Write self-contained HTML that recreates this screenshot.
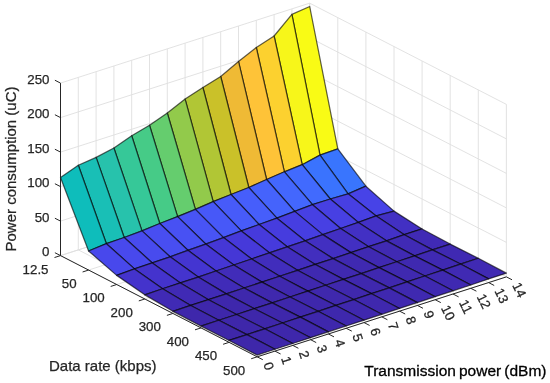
<!DOCTYPE html>
<html><head><meta charset="utf-8"><title>Power consumption</title>
<style>html,body{margin:0;padding:0;background:#fff}svg{display:block}</style></head>
<body>
<svg width="550" height="383" viewBox="0 0 550 383">
<rect width="550" height="383" fill="#fff"/>
<g id="grid">
<line x1="60.50" y1="255.60" x2="60.50" y2="83.10" stroke="#dfdfdf" stroke-width="0.9" />
<line x1="78.30" y1="249.89" x2="78.30" y2="77.39" stroke="#dfdfdf" stroke-width="0.9" />
<line x1="96.10" y1="244.18" x2="96.10" y2="71.68" stroke="#dfdfdf" stroke-width="0.9" />
<line x1="113.90" y1="238.47" x2="113.90" y2="65.97" stroke="#dfdfdf" stroke-width="0.9" />
<line x1="131.70" y1="232.76" x2="131.70" y2="60.26" stroke="#dfdfdf" stroke-width="0.9" />
<line x1="149.50" y1="227.05" x2="149.50" y2="54.55" stroke="#dfdfdf" stroke-width="0.9" />
<line x1="167.30" y1="221.34" x2="167.30" y2="48.84" stroke="#dfdfdf" stroke-width="0.9" />
<line x1="185.10" y1="215.63" x2="185.10" y2="43.13" stroke="#dfdfdf" stroke-width="0.9" />
<line x1="202.90" y1="209.92" x2="202.90" y2="37.42" stroke="#dfdfdf" stroke-width="0.9" />
<line x1="220.70" y1="204.21" x2="220.70" y2="31.71" stroke="#dfdfdf" stroke-width="0.9" />
<line x1="238.50" y1="198.50" x2="238.50" y2="26.00" stroke="#dfdfdf" stroke-width="0.9" />
<line x1="256.30" y1="192.79" x2="256.30" y2="20.29" stroke="#dfdfdf" stroke-width="0.9" />
<line x1="274.10" y1="187.08" x2="274.10" y2="14.58" stroke="#dfdfdf" stroke-width="0.9" />
<line x1="291.90" y1="181.37" x2="291.90" y2="8.87" stroke="#dfdfdf" stroke-width="0.9" />
<line x1="309.70" y1="175.66" x2="309.70" y2="3.16" stroke="#dfdfdf" stroke-width="0.9" />
<line x1="60.50" y1="255.60" x2="309.70" y2="175.66" stroke="#dfdfdf" stroke-width="0.9" />
<line x1="309.70" y1="175.66" x2="506.40" y2="276.88" stroke="#dfdfdf" stroke-width="0.9" />
<line x1="60.50" y1="221.10" x2="309.70" y2="141.16" stroke="#dfdfdf" stroke-width="0.9" />
<line x1="309.70" y1="141.16" x2="506.40" y2="242.38" stroke="#dfdfdf" stroke-width="0.9" />
<line x1="60.50" y1="186.60" x2="309.70" y2="106.66" stroke="#dfdfdf" stroke-width="0.9" />
<line x1="309.70" y1="106.66" x2="506.40" y2="207.88" stroke="#dfdfdf" stroke-width="0.9" />
<line x1="60.50" y1="152.10" x2="309.70" y2="72.16" stroke="#dfdfdf" stroke-width="0.9" />
<line x1="309.70" y1="72.16" x2="506.40" y2="173.38" stroke="#dfdfdf" stroke-width="0.9" />
<line x1="60.50" y1="117.60" x2="309.70" y2="37.66" stroke="#dfdfdf" stroke-width="0.9" />
<line x1="309.70" y1="37.66" x2="506.40" y2="138.88" stroke="#dfdfdf" stroke-width="0.9" />
<line x1="60.50" y1="83.10" x2="309.70" y2="3.16" stroke="#dfdfdf" stroke-width="0.9" />
<line x1="309.70" y1="3.16" x2="506.40" y2="104.38" stroke="#dfdfdf" stroke-width="0.9" />
<line x1="309.70" y1="175.66" x2="309.70" y2="3.16" stroke="#dfdfdf" stroke-width="0.9" />
<line x1="337.80" y1="190.12" x2="337.80" y2="17.62" stroke="#dfdfdf" stroke-width="0.9" />
<line x1="365.90" y1="204.58" x2="365.90" y2="32.08" stroke="#dfdfdf" stroke-width="0.9" />
<line x1="394.00" y1="219.04" x2="394.00" y2="46.54" stroke="#dfdfdf" stroke-width="0.9" />
<line x1="422.10" y1="233.50" x2="422.10" y2="61.00" stroke="#dfdfdf" stroke-width="0.9" />
<line x1="450.20" y1="247.96" x2="450.20" y2="75.46" stroke="#dfdfdf" stroke-width="0.9" />
<line x1="478.30" y1="262.42" x2="478.30" y2="89.92" stroke="#dfdfdf" stroke-width="0.9" />
<line x1="506.40" y1="276.88" x2="506.40" y2="104.38" stroke="#dfdfdf" stroke-width="0.9" />
<line x1="60.50" y1="255.60" x2="257.20" y2="356.82" stroke="#dfdfdf" stroke-width="0.9" />
<line x1="78.30" y1="249.89" x2="275.00" y2="351.11" stroke="#dfdfdf" stroke-width="0.9" />
<line x1="96.10" y1="244.18" x2="292.80" y2="345.40" stroke="#dfdfdf" stroke-width="0.9" />
<line x1="113.90" y1="238.47" x2="310.60" y2="339.69" stroke="#dfdfdf" stroke-width="0.9" />
<line x1="131.70" y1="232.76" x2="328.40" y2="333.98" stroke="#dfdfdf" stroke-width="0.9" />
<line x1="149.50" y1="227.05" x2="346.20" y2="328.27" stroke="#dfdfdf" stroke-width="0.9" />
<line x1="167.30" y1="221.34" x2="364.00" y2="322.56" stroke="#dfdfdf" stroke-width="0.9" />
<line x1="185.10" y1="215.63" x2="381.80" y2="316.85" stroke="#dfdfdf" stroke-width="0.9" />
<line x1="202.90" y1="209.92" x2="399.60" y2="311.14" stroke="#dfdfdf" stroke-width="0.9" />
<line x1="220.70" y1="204.21" x2="417.40" y2="305.43" stroke="#dfdfdf" stroke-width="0.9" />
<line x1="238.50" y1="198.50" x2="435.20" y2="299.72" stroke="#dfdfdf" stroke-width="0.9" />
<line x1="256.30" y1="192.79" x2="453.00" y2="294.01" stroke="#dfdfdf" stroke-width="0.9" />
<line x1="274.10" y1="187.08" x2="470.80" y2="288.30" stroke="#dfdfdf" stroke-width="0.9" />
<line x1="291.90" y1="181.37" x2="488.60" y2="282.59" stroke="#dfdfdf" stroke-width="0.9" />
<line x1="309.70" y1="175.66" x2="506.40" y2="276.88" stroke="#dfdfdf" stroke-width="0.9" />
<line x1="60.50" y1="255.60" x2="309.70" y2="175.66" stroke="#dfdfdf" stroke-width="0.9" />
<line x1="88.60" y1="270.06" x2="337.80" y2="190.12" stroke="#dfdfdf" stroke-width="0.9" />
<line x1="116.70" y1="284.52" x2="365.90" y2="204.58" stroke="#dfdfdf" stroke-width="0.9" />
<line x1="144.80" y1="298.98" x2="394.00" y2="219.04" stroke="#dfdfdf" stroke-width="0.9" />
<line x1="172.90" y1="313.44" x2="422.10" y2="233.50" stroke="#dfdfdf" stroke-width="0.9" />
<line x1="201.00" y1="327.90" x2="450.20" y2="247.96" stroke="#dfdfdf" stroke-width="0.9" />
<line x1="229.10" y1="342.36" x2="478.30" y2="262.42" stroke="#dfdfdf" stroke-width="0.9" />
<line x1="257.20" y1="356.82" x2="506.40" y2="276.88" stroke="#dfdfdf" stroke-width="0.9" />
</g>
<g id="surf" stroke="#000" stroke-width="1.25" stroke-linejoin="round" stroke-opacity="0.62">
<polygon points="291.90,14.40 309.70,6.50 337.80,148.84 320.00,155.09" fill="#f9fb15"/>
<polygon points="274.10,36.00 291.90,14.40 320.00,155.09 302.20,164.68" fill="#f7f61a"/>
<polygon points="256.30,47.50 274.10,36.00 302.20,164.68 284.40,171.80" fill="#fcd12f"/>
<polygon points="238.50,61.40 256.30,47.50 284.40,171.80 266.60,179.51" fill="#fec338"/>
<polygon points="220.70,76.50 238.50,61.40 266.60,179.51 248.80,187.51" fill="#efba35"/>
<polygon points="202.90,87.50 220.70,76.50 248.80,187.51 231.00,194.51" fill="#cac129"/>
<polygon points="185.10,99.10 202.90,87.50 231.00,194.51 213.20,201.66" fill="#b1c635"/>
<polygon points="167.30,113.00 185.10,99.10 213.20,201.66 195.40,209.37" fill="#92ca4b"/>
<polygon points="149.50,125.20 167.30,113.00 195.40,209.37 177.60,216.66" fill="#65cd6e"/>
<polygon points="131.70,135.70 149.50,125.20 177.60,216.66 159.80,223.54" fill="#46cb87"/>
<polygon points="113.90,148.00 131.70,135.70 159.80,223.54 142.00,230.86" fill="#36c898"/>
<polygon points="96.10,157.40 113.90,148.00 142.00,230.86 124.20,237.47" fill="#27c2ac"/>
<polygon points="78.30,165.20 96.10,157.40 124.20,237.47 106.40,243.69" fill="#19bfb6"/>
<polygon points="60.50,177.50 78.30,165.20 106.40,243.69 88.60,251.00" fill="#0ebdbb"/>
<polygon points="320.00,155.09 337.80,148.84 365.90,186.17 348.10,193.86" fill="#3975fe"/>
<polygon points="302.20,164.68 320.00,155.09 348.10,193.86 330.30,199.01" fill="#3a73fe"/>
<polygon points="284.40,171.80 302.20,164.68 330.30,199.01 312.50,204.71" fill="#416afe"/>
<polygon points="266.60,179.51 284.40,171.80 312.50,204.71 294.70,211.38" fill="#4367fd"/>
<polygon points="248.80,187.51 266.60,179.51 294.70,211.38 276.90,218.19" fill="#4563fc"/>
<polygon points="231.00,194.51 248.80,187.51 276.90,218.19 259.10,224.52" fill="#465efb"/>
<polygon points="213.20,201.66 231.00,194.51 259.10,224.52 241.30,230.92" fill="#475bf9"/>
<polygon points="195.40,209.37 213.20,201.66 241.30,230.92 223.50,237.58" fill="#4758f8"/>
<polygon points="177.60,216.66 195.40,209.37 223.50,237.58 205.70,244.05" fill="#4854f5"/>
<polygon points="159.80,223.54 177.60,216.66 205.70,244.05 187.90,250.32" fill="#4851f3"/>
<polygon points="142.00,230.86 159.80,223.54 187.90,250.32 170.10,256.81" fill="#484ef1"/>
<polygon points="124.20,237.47 142.00,230.86 170.10,256.81 152.30,262.95" fill="#484bee"/>
<polygon points="106.40,243.69 124.20,237.47 152.30,262.95 134.50,268.90" fill="#4849ed"/>
<polygon points="88.60,251.00 106.40,243.69 134.50,268.90 116.70,275.38" fill="#4848ec"/>
<polygon points="348.10,193.86 365.90,186.17 394.00,211.11 376.20,215.90" fill="#4743e7"/>
<polygon points="330.30,199.01 348.10,193.86 376.20,215.90 358.40,222.45" fill="#473fe2"/>
<polygon points="312.50,204.71 330.30,199.01 358.40,222.45 340.60,228.47" fill="#4740e3"/>
<polygon points="294.70,211.38 312.50,204.71 340.60,228.47 322.80,234.61" fill="#4740e3"/>
<polygon points="276.90,218.19 294.70,211.38 322.80,234.61 305.00,240.82" fill="#463ee1"/>
<polygon points="259.10,224.52 276.90,218.19 305.00,240.82 287.20,246.81" fill="#463cde"/>
<polygon points="241.30,230.92 259.10,224.52 287.20,246.81 269.40,252.83" fill="#463adc"/>
<polygon points="223.50,237.58 241.30,230.92 269.40,252.83 251.60,258.98" fill="#4639da"/>
<polygon points="205.70,244.05 223.50,237.58 251.60,258.98 233.80,265.03" fill="#4537d6"/>
<polygon points="187.90,250.32 205.70,244.05 233.80,265.03 216.00,271.00" fill="#4536d4"/>
<polygon points="170.10,256.81 187.90,250.32 216.00,271.00 198.20,277.06" fill="#4435d1"/>
<polygon points="152.30,262.95 170.10,256.81 198.20,277.06 180.40,282.96" fill="#4434ce"/>
<polygon points="134.50,268.90 152.30,262.95 180.40,282.96 162.60,288.78" fill="#4433cd"/>
<polygon points="116.70,275.38 134.50,268.90 162.60,288.78 144.80,294.84" fill="#4433cc"/>
<polygon points="376.20,215.90 394.00,211.11 422.10,228.93 404.30,234.70" fill="#4230c3"/>
<polygon points="358.40,222.45 376.20,215.90 404.30,234.70 386.50,240.84" fill="#4331c7"/>
<polygon points="340.60,228.47 358.40,222.45 386.50,240.84 368.70,246.71" fill="#4230c4"/>
<polygon points="322.80,234.61 340.60,228.47 368.70,246.71 350.90,252.64" fill="#422fc2"/>
<polygon points="305.00,240.82 322.80,234.61 350.90,252.64 333.10,258.60" fill="#422fc1"/>
<polygon points="287.20,246.81 305.00,240.82 333.10,258.60 315.30,264.45" fill="#422ebe"/>
<polygon points="269.40,252.83 287.20,246.81 315.30,264.45 297.50,270.32" fill="#412dbd"/>
<polygon points="251.60,258.98 269.40,252.83 297.50,270.32 279.70,276.25" fill="#412dbc"/>
<polygon points="233.80,265.03 251.60,258.98 279.70,276.25 261.90,282.14" fill="#412cba"/>
<polygon points="216.00,271.00 233.80,265.03 261.90,282.14 244.10,287.98" fill="#412cb9"/>
<polygon points="198.20,277.06 216.00,271.00 244.10,287.98 226.30,293.87" fill="#402bb8"/>
<polygon points="180.40,282.96 198.20,277.06 226.30,293.87 208.50,299.68" fill="#402bb6"/>
<polygon points="162.60,288.78 180.40,282.96 208.50,299.68 190.70,305.44" fill="#402ab5"/>
<polygon points="144.80,294.84 162.60,288.78 190.70,305.44 172.90,311.33" fill="#402ab5"/>
<polygon points="404.30,234.70 422.10,228.93 450.20,244.07 432.40,249.83" fill="#402ab5"/>
<polygon points="386.50,240.84 404.30,234.70 432.40,249.83 414.60,255.91" fill="#402ab5"/>
<polygon points="368.70,246.71 386.50,240.84 414.60,255.91 396.80,261.75" fill="#402ab3"/>
<polygon points="350.90,252.64 368.70,246.71 396.80,261.75 379.00,267.65" fill="#3f29b2"/>
<polygon points="333.10,258.60 350.90,252.64 379.00,267.65 361.20,273.57" fill="#3f29b1"/>
<polygon points="315.30,264.45 333.10,258.60 361.20,273.57 343.40,279.40" fill="#3f29b0"/>
<polygon points="297.50,270.32 315.30,264.45 343.40,279.40 325.60,285.25" fill="#3f29b0"/>
<polygon points="279.70,276.25 297.50,270.32 325.60,285.25 307.80,291.15" fill="#3f28af"/>
<polygon points="261.90,282.14 279.70,276.25 307.80,291.15 290.00,297.01" fill="#3f28ae"/>
<polygon points="244.10,287.98 261.90,282.14 290.00,297.01 272.20,302.83" fill="#3f28ad"/>
<polygon points="226.30,293.87 244.10,287.98 272.20,302.83 254.40,308.69" fill="#3e28ac"/>
<polygon points="208.50,299.68 226.30,293.87 254.40,308.69 236.60,314.48" fill="#3e27ac"/>
<polygon points="190.70,305.44 208.50,299.68 236.60,314.48 218.80,320.24" fill="#3e27ab"/>
<polygon points="172.90,311.33 190.70,305.44 218.80,320.24 201.00,326.10" fill="#3e27ab"/>
<polygon points="432.40,249.83 450.20,244.07 478.30,258.28 460.50,264.04" fill="#3f29b2"/>
<polygon points="414.60,255.91 432.40,249.83 460.50,264.04 442.70,270.14" fill="#3f29b2"/>
<polygon points="396.80,261.75 414.60,255.91 442.70,270.14 424.90,275.99" fill="#3f29b0"/>
<polygon points="379.00,267.65 396.80,261.75 424.90,275.99 407.10,281.90" fill="#3f29b0"/>
<polygon points="361.20,273.57 379.00,267.65 407.10,281.90 389.30,287.84" fill="#3f28af"/>
<polygon points="343.40,279.40 361.20,273.57 389.30,287.84 371.50,293.68" fill="#3f28ae"/>
<polygon points="325.60,285.25 343.40,279.40 371.50,293.68 353.70,299.54" fill="#3f28ad"/>
<polygon points="307.80,291.15 325.60,285.25 353.70,299.54 335.90,305.45" fill="#3f28ad"/>
<polygon points="290.00,297.01 307.80,291.15 335.90,305.45 318.10,311.31" fill="#3e27ac"/>
<polygon points="272.20,302.83 290.00,297.01 318.10,311.31 300.30,317.14" fill="#3e27ab"/>
<polygon points="254.40,308.69 272.20,302.83 300.30,317.14 282.50,323.01" fill="#3e27ab"/>
<polygon points="236.60,314.48 254.40,308.69 282.50,323.01 264.70,328.81" fill="#3e27aa"/>
<polygon points="218.80,320.24 236.60,314.48 264.70,328.81 246.90,334.58" fill="#3e27aa"/>
<polygon points="201.00,326.10 218.80,320.24 246.90,334.58 229.10,340.45" fill="#3e27a9"/>
<polygon points="460.50,264.04 478.30,258.28 506.40,273.16 488.60,278.92" fill="#402ab3"/>
<polygon points="442.70,270.14 460.50,264.04 488.60,278.92 470.80,284.98" fill="#402ab3"/>
<polygon points="424.90,275.99 442.70,270.14 470.80,284.98 453.00,290.81" fill="#3f29b1"/>
<polygon points="407.10,281.90 424.90,275.99 453.00,290.81 435.20,296.70" fill="#3f29b1"/>
<polygon points="389.30,287.84 407.10,281.90 435.20,296.70 417.40,302.62" fill="#3f29b0"/>
<polygon points="371.50,293.68 389.30,287.84 417.40,302.62 399.60,308.45" fill="#3f28af"/>
<polygon points="353.70,299.54 371.50,293.68 399.60,308.45 381.80,314.29" fill="#3f28ae"/>
<polygon points="335.90,305.45 353.70,299.54 381.80,314.29 364.00,320.18" fill="#3f28ae"/>
<polygon points="318.10,311.31 335.90,305.45 364.00,320.18 346.20,326.03" fill="#3e28ad"/>
<polygon points="300.30,317.14 318.10,311.31 346.20,326.03 328.40,331.84" fill="#3e27ac"/>
<polygon points="282.50,323.01 300.30,317.14 328.40,331.84 310.60,337.70" fill="#3e27ab"/>
<polygon points="264.70,328.81 282.50,323.01 310.60,337.70 292.80,343.49" fill="#3e27ab"/>
<polygon points="246.90,334.58 264.70,328.81 292.80,343.49 275.00,349.25" fill="#3e27aa"/>
<polygon points="229.10,340.45 246.90,334.58 275.00,349.25 257.20,355.10" fill="#3e27aa"/>
</g>
<g id="axes">
<line x1="60.50" y1="255.60" x2="60.50" y2="83.10" stroke="#262626" stroke-width="1" />
<line x1="60.50" y1="255.60" x2="257.20" y2="356.82" stroke="#262626" stroke-width="1" />
<line x1="257.20" y1="356.82" x2="506.40" y2="276.88" stroke="#262626" stroke-width="1" />
<line x1="60.50" y1="255.60" x2="54.90" y2="252.72" stroke="#262626" stroke-width="1" />
<line x1="60.50" y1="221.10" x2="54.90" y2="218.22" stroke="#262626" stroke-width="1" />
<line x1="60.50" y1="186.60" x2="54.90" y2="183.72" stroke="#262626" stroke-width="1" />
<line x1="60.50" y1="152.10" x2="54.90" y2="149.22" stroke="#262626" stroke-width="1" />
<line x1="60.50" y1="117.60" x2="54.90" y2="114.72" stroke="#262626" stroke-width="1" />
<line x1="60.50" y1="83.10" x2="54.90" y2="80.22" stroke="#262626" stroke-width="1" />
<line x1="60.50" y1="255.60" x2="54.50" y2="257.52" stroke="#262626" stroke-width="1" />
<line x1="88.60" y1="270.06" x2="82.60" y2="271.98" stroke="#262626" stroke-width="1" />
<line x1="116.70" y1="284.52" x2="110.70" y2="286.44" stroke="#262626" stroke-width="1" />
<line x1="144.80" y1="298.98" x2="138.80" y2="300.90" stroke="#262626" stroke-width="1" />
<line x1="172.90" y1="313.44" x2="166.90" y2="315.36" stroke="#262626" stroke-width="1" />
<line x1="201.00" y1="327.90" x2="195.00" y2="329.82" stroke="#262626" stroke-width="1" />
<line x1="229.10" y1="342.36" x2="223.10" y2="344.28" stroke="#262626" stroke-width="1" />
<line x1="257.20" y1="356.82" x2="251.20" y2="358.74" stroke="#262626" stroke-width="1" />
<line x1="257.20" y1="356.82" x2="262.80" y2="359.70" stroke="#262626" stroke-width="1" />
<line x1="275.00" y1="351.11" x2="280.60" y2="353.99" stroke="#262626" stroke-width="1" />
<line x1="292.80" y1="345.40" x2="298.40" y2="348.28" stroke="#262626" stroke-width="1" />
<line x1="310.60" y1="339.69" x2="316.20" y2="342.57" stroke="#262626" stroke-width="1" />
<line x1="328.40" y1="333.98" x2="334.00" y2="336.86" stroke="#262626" stroke-width="1" />
<line x1="346.20" y1="328.27" x2="351.80" y2="331.15" stroke="#262626" stroke-width="1" />
<line x1="364.00" y1="322.56" x2="369.60" y2="325.44" stroke="#262626" stroke-width="1" />
<line x1="381.80" y1="316.85" x2="387.40" y2="319.73" stroke="#262626" stroke-width="1" />
<line x1="399.60" y1="311.14" x2="405.20" y2="314.02" stroke="#262626" stroke-width="1" />
<line x1="417.40" y1="305.43" x2="423.00" y2="308.31" stroke="#262626" stroke-width="1" />
<line x1="435.20" y1="299.72" x2="440.80" y2="302.60" stroke="#262626" stroke-width="1" />
<line x1="453.00" y1="294.01" x2="458.60" y2="296.89" stroke="#262626" stroke-width="1" />
<line x1="470.80" y1="288.30" x2="476.40" y2="291.18" stroke="#262626" stroke-width="1" />
<line x1="488.60" y1="282.59" x2="494.20" y2="285.47" stroke="#262626" stroke-width="1" />
<line x1="506.40" y1="276.88" x2="512.00" y2="279.76" stroke="#262626" stroke-width="1" />
</g>
<g font-family="'Liberation Sans', Arial, Helvetica, sans-serif" fill="#262626" stroke="#262626" stroke-width="0.25" font-size="13.3">
<text x="49.5" y="256.2" text-anchor="end">0</text>
<text x="49.5" y="221.7" text-anchor="end">50</text>
<text x="49.5" y="187.2" text-anchor="end">100</text>
<text x="49.5" y="152.7" text-anchor="end">150</text>
<text x="49.5" y="118.2" text-anchor="end">200</text>
<text x="49.5" y="83.7" text-anchor="end">250</text>
<text x="48.5" y="273.5" text-anchor="end">12.5</text>
<text x="76.6" y="288.0" text-anchor="end">50</text>
<text x="104.7" y="302.4" text-anchor="end">100</text>
<text x="132.8" y="316.9" text-anchor="end">200</text>
<text x="160.9" y="331.3" text-anchor="end">300</text>
<text x="189.0" y="345.8" text-anchor="end">400</text>
<text x="217.1" y="360.3" text-anchor="end">450</text>
<text x="245.2" y="374.7" text-anchor="end">500</text>
<text transform="translate(267.8,362.4) rotate(72)" x="0" y="4.8">0</text>
<text transform="translate(285.6,356.7) rotate(72)" x="0" y="4.8">1</text>
<text transform="translate(303.4,351.0) rotate(72)" x="0" y="4.8">2</text>
<text transform="translate(321.2,345.3) rotate(72)" x="0" y="4.8">3</text>
<text transform="translate(339.0,339.6) rotate(72)" x="0" y="4.8">4</text>
<text transform="translate(356.8,333.9) rotate(72)" x="0" y="4.8">5</text>
<text transform="translate(374.6,328.2) rotate(72)" x="0" y="4.8">6</text>
<text transform="translate(392.4,322.5) rotate(72)" x="0" y="4.8">7</text>
<text transform="translate(410.2,316.7) rotate(72)" x="0" y="4.8">8</text>
<text transform="translate(428.0,311.0) rotate(72)" x="0" y="4.8">9</text>
<text transform="translate(445.2,306.0) rotate(64)" x="0" y="4.8">10</text>
<text transform="translate(463.0,300.3) rotate(64)" x="0" y="4.8">11</text>
<text transform="translate(480.8,294.6) rotate(64)" x="0" y="4.8">12</text>
<text transform="translate(498.6,288.9) rotate(64)" x="0" y="4.8">13</text>
<text transform="translate(516.4,283.2) rotate(64)" x="0" y="4.8">14</text>
<text transform="translate(16.2,169) rotate(-90)" text-anchor="middle" font-size="15">Power consumption (uC)</text>
<text x="49" y="371" font-size="15">Data rate (kbps)</text>
<text x="364.3" y="376.1"  fill="#000" stroke="#000" stroke-width="0.3" font-size="15.5" word-spacing="-1.2">Transmission power (dBm)</text>
</g>
</svg>
</body></html>
